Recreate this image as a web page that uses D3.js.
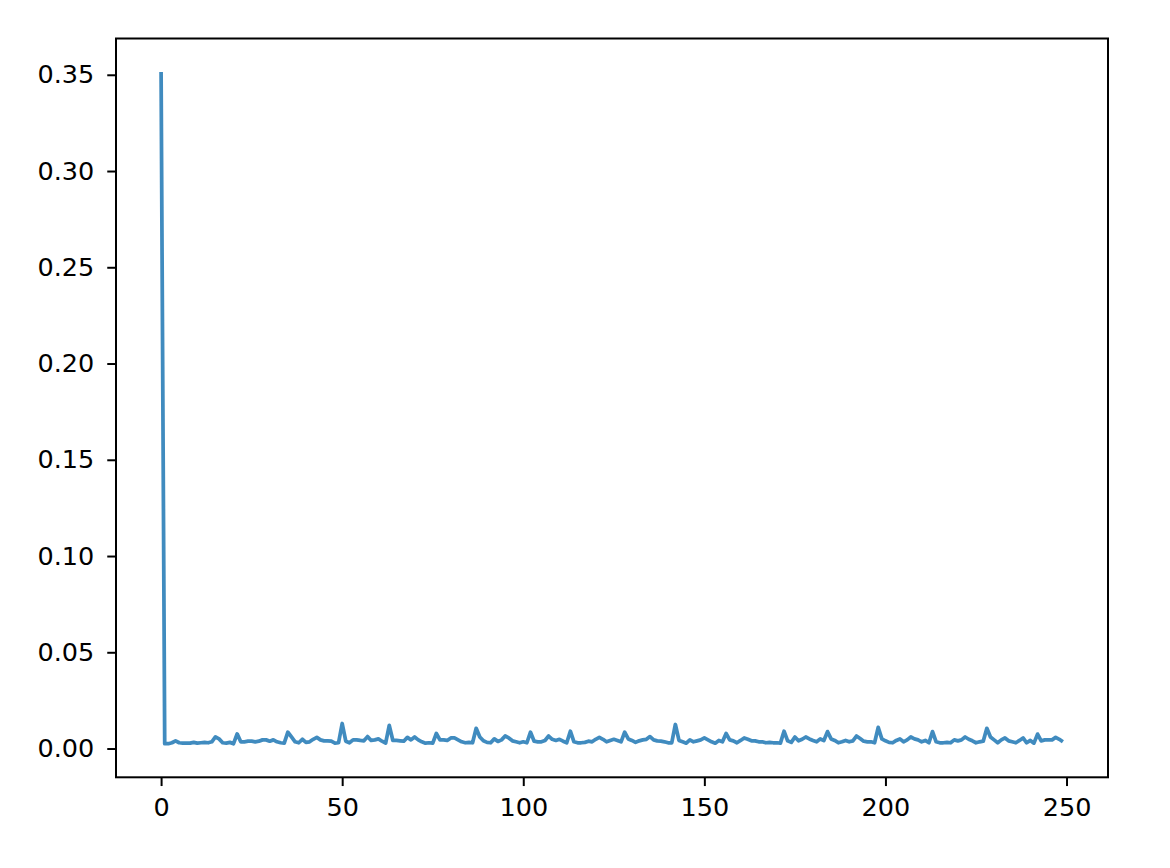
<!DOCTYPE html>
<html>
<head>
<meta charset="utf-8">
<script src="https://cdn.jsdelivr.net/npm/d3@7"></script>
<style>
  html, body { margin: 0; padding: 0; background: #fff; }
  svg { display: block; font-family: "DejaVu Sans", sans-serif; }
</style>
</head>
<body>
<svg id="chart" width="1170" height="868"></svg>
<script>
// ---- data ----
const values = [
  0.3514, 0.0025, 0.0025, 0.0030, 0.0040, 0.0030, 0.0028, 0.0028, 0.0028, 0.0032,
  0.0028, 0.0030, 0.0032, 0.0030, 0.0035, 0.0060, 0.0050, 0.0030, 0.0028, 0.0032,
  0.0025, 0.0076, 0.0035, 0.0035, 0.0038, 0.0038, 0.0035, 0.0038, 0.0045, 0.0045,
  0.0038, 0.0045, 0.0035, 0.0030, 0.0028, 0.0085, 0.0060, 0.0035, 0.0030, 0.0048,
  0.0032, 0.0035, 0.0048, 0.0058, 0.0045, 0.0040, 0.0040, 0.0038, 0.0028, 0.0030,
  0.0130, 0.0038, 0.0030, 0.0045, 0.0045, 0.0042, 0.0040, 0.0062, 0.0042, 0.0045,
  0.0050, 0.0038, 0.0028, 0.0120, 0.0042, 0.0042, 0.0040, 0.0038, 0.0058, 0.0045,
  0.0060, 0.0045, 0.0035, 0.0028, 0.0030, 0.0028, 0.0078, 0.0045, 0.0045, 0.0042,
  0.0055, 0.0055, 0.0045, 0.0035, 0.0030, 0.0032, 0.0030, 0.0105, 0.0060, 0.0040,
  0.0032, 0.0030, 0.0050, 0.0037, 0.0045, 0.0065, 0.0055, 0.0040, 0.0035, 0.0030,
  0.0035, 0.0030, 0.0085, 0.0038, 0.0035, 0.0035, 0.0042, 0.0065, 0.0048, 0.0042,
  0.0048, 0.0038, 0.0030, 0.0090, 0.0035, 0.0030, 0.0030, 0.0032, 0.0038, 0.0035,
  0.0048, 0.0058, 0.0048, 0.0035, 0.0042, 0.0048, 0.0042, 0.0035, 0.0085, 0.0050,
  0.0042, 0.0032, 0.0040, 0.0045, 0.0048, 0.0062, 0.0045, 0.0040, 0.0038, 0.0035,
  0.0030, 0.0030, 0.0125, 0.0042, 0.0035, 0.0028, 0.0045, 0.0035, 0.0040, 0.0045,
  0.0055, 0.0045, 0.0035, 0.0028, 0.0042, 0.0035, 0.0078, 0.0045, 0.0040, 0.0030,
  0.0042, 0.0055, 0.0048, 0.0040, 0.0040, 0.0035, 0.0035, 0.0030, 0.0032, 0.0030,
  0.0030, 0.0028, 0.0090, 0.0040, 0.0032, 0.0060, 0.0040, 0.0048, 0.0060, 0.0050,
  0.0042, 0.0035, 0.0050, 0.0042, 0.0088, 0.0050, 0.0042, 0.0030, 0.0035, 0.0042,
  0.0035, 0.0040, 0.0065, 0.0052, 0.0038, 0.0035, 0.0035, 0.0030, 0.0110, 0.0050,
  0.0040, 0.0032, 0.0030, 0.0042, 0.0050, 0.0035, 0.0045, 0.0060, 0.0050, 0.0045,
  0.0035, 0.0042, 0.0030, 0.0088, 0.0035, 0.0030, 0.0030, 0.0032, 0.0030, 0.0045,
  0.0040, 0.0045, 0.0060, 0.0048, 0.0040, 0.0030, 0.0035, 0.0038, 0.0105, 0.0060,
  0.0045, 0.0030, 0.0045, 0.0055, 0.0040, 0.0035, 0.0030, 0.0042, 0.0055, 0.0030,
  0.0042, 0.0028, 0.0075, 0.0040, 0.0045, 0.0045, 0.0045, 0.0058, 0.0048, 0.0035
];
const xTicks = [0, 50, 100, 150, 200, 250];
const yTicks = [0.00, 0.05, 0.10, 0.15, 0.20, 0.25, 0.30, 0.35];

// ---- layout ----
const plotLeft = 116, plotRight = 1108, plotTop = 38.5, plotBottom = 777.3;
const svg = d3.select("#chart");
svg.append("rect").attr("width", 1170).attr("height", 868).attr("fill", "#fff");

const n = values.length;
const xPad = (n - 1) * 0.05;
const x = d3.scaleLinear().domain([0 - xPad, (n - 1) + xPad]).range([plotLeft, plotRight]);
const [yMin, yMax] = d3.extent(values);
const yPad = (yMax - yMin) * 0.05;
const y = d3.scaleLinear().domain([yMin - yPad, yMax + yPad]).range([plotBottom, plotTop]);

const fontSize = 25.5;
const tickLen = 8.75;

// x axis
const gx = svg.append("g")
  .attr("transform", `translate(0,${plotBottom})`)
  .call(d3.axisBottom(x).tickValues(xTicks).tickFormat(d3.format("d"))
        .tickSize(tickLen).tickPadding(12));
gx.select(".domain").remove();
gx.selectAll("line").attr("stroke", "#000").attr("stroke-width", 2);
gx.selectAll("text").attr("font-size", fontSize).attr("fill", "#000")
  .attr("font-family", "DejaVu Sans, sans-serif");

// y axis
const gy = svg.append("g")
  .attr("transform", `translate(${plotLeft},0)`)
  .call(d3.axisLeft(y).tickValues(yTicks).tickFormat(d3.format(".2f"))
        .tickSize(tickLen).tickPadding(13));
gy.select(".domain").remove();
gy.selectAll("line").attr("stroke", "#000").attr("stroke-width", 2);
gy.selectAll("text").attr("font-size", fontSize).attr("fill", "#000")
  .attr("font-family", "DejaVu Sans, sans-serif");

// line
const line = d3.line().x((d, i) => x(i)).y(d => y(d));
svg.append("path")
  .datum(values)
  .attr("d", line)
  .attr("fill", "none")
  .attr("stroke", "#1f77b4")
  .attr("stroke-opacity", 0.85)
  .attr("stroke-width", 3.75)
  .attr("stroke-linejoin", "round")
  .attr("stroke-linecap", "butt");

// frame
svg.append("rect")
  .attr("x", plotLeft).attr("y", plotTop)
  .attr("width", plotRight - plotLeft).attr("height", plotBottom - plotTop)
  .attr("fill", "none").attr("stroke", "#000").attr("stroke-width", 2);
</script>
</body>
</html>
